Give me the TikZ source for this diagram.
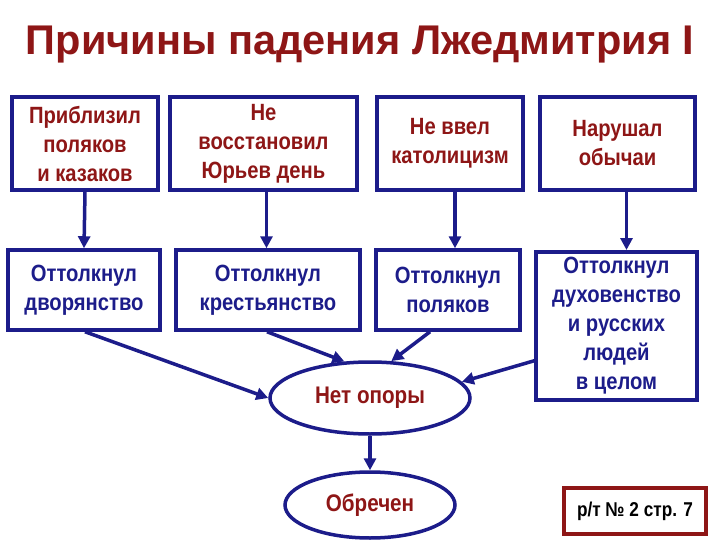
\documentclass[tikz,border=0pt]{standalone}
\usepackage{fontspec}
\setmainfont{Liberation Sans}
\newfontfamily\cond[FakeStretch=0.86]{Liberation Sans}
\usetikzlibrary{shapes.geometric,arrows.meta}
\definecolor{dblue}{HTML}{1C1C8A}
\definecolor{dred}{HTML}{8E1616}
\tikzset{
 box/.style={draw=dblue,line width=3.5pt,fill=white,align=center,font=\cond\bfseries\fontsize{23.5}{29}\selectfont,inner sep=0pt},
 top/.style={box,text=dred},
 bot/.style={box,text=dblue},
 ell/.style={ellipse,draw=dblue,line width=3.5pt,text=dred,font=\cond\bfseries\fontsize{24}{26}\selectfont,inner sep=0pt},
 arr/.style={draw=dblue,line width=3.5pt,-{Triangle[length=12pt,width=12pt]}}
}
\begin{document}
\begin{tikzpicture}[x=1pt,y=-1pt]
\useasboundingbox[fill=white] (0,0) rectangle (720,540);
\node[text=dred,font=\bfseries\fontsize{41.5}{44}\selectfont] (title) at (360,45) {Причины падения Лжедмитрия I};
\node[top,minimum width=146pt,minimum height=93pt] (a1) at (85,143.5) {Приблизил\\поляков\\и казаков};
\node[top,minimum width=187pt,minimum height=93pt] (a2) at (263.5,143.5) {Не\\восстановил\\Юрьев день};
\node[top,minimum width=146pt,minimum height=93pt] (a3) at (450,143.5) {Не ввел\\католицизм};
\node[top,minimum width=155pt,minimum height=93pt] (a4) at (617.5,143.5) {Нарушал\\обычаи};
\node[bot,minimum width=152pt,minimum height=80pt] (b1) at (84,290) {Оттолкнул\\дворянство};
\node[bot,minimum width=184pt,minimum height=80pt] (b2) at (268,290) {Оттолкнул\\крестьянство};
\node[bot,minimum width=144pt,minimum height=80pt] (b3) at (448,290) {Оттолкнул\\поляков};
\node[bot,minimum width=161pt,minimum height=148pt,anchor=north] (b4) at (616.5,250) {Оттолкнул\\духовенство\\и русских\\людей\\в целом};
\node[ell,minimum width=200pt,minimum height=72pt] (e1) at (370,398) {Нет опоры};
\node[ell,minimum width=170pt,minimum height=66pt] (e2) at (370,505) {Обречен};
\node[draw=dred,line width=3.5pt,font=\cond\bfseries\fontsize{20}{22}\selectfont,minimum width=142pt,minimum height=46pt,inner sep=0pt] (rt) at (635,511) {р/т № 2 стр. 7};
\draw[arr] (a1.south) -- (b1.north);
\draw[arr] ([xshift=3pt]a2.south) -- ([xshift=-1.5pt]b2.north);
\draw[arr] ([xshift=5pt]a3.south) -- ([xshift=7pt]b3.north);
\draw[arr] ([xshift=9pt]a4.south) -- ([xshift=10pt]b4.north);
\draw[arr] ([xshift=1pt]b1.south) -- (e1.west);
\draw[arr] ([xshift=-1pt]b2.south) -- (e1.125);
\draw[arr] ([xshift=-18pt]b3.south) -- (e1.60);
\draw[arr] ([yshift=-35pt]b4.west) -- (e1.10);
\draw[arr] (e1.south) -- (e2.north);
\end{tikzpicture}
\end{document}
